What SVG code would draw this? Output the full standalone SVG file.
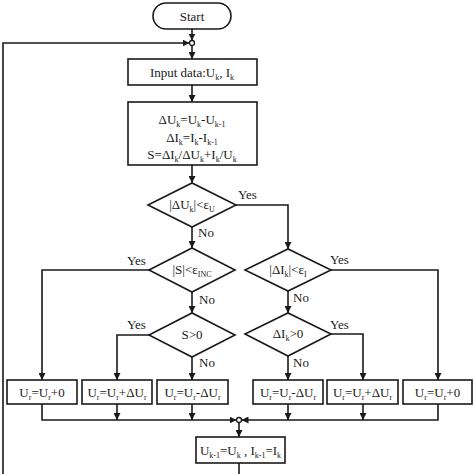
<svg xmlns="http://www.w3.org/2000/svg" width="474" height="474" viewBox="0 0 474 474">
<defs>
<style>
.b{fill:#fff;stroke:#1a1a1a;stroke-width:1.6}
.c{fill:none;stroke:#1a1a1a;stroke-width:1.6}
.j{fill:#fff;stroke:#1a1a1a;stroke-width:1.3}
text{font-family:"Liberation Serif","Times New Roman",serif;font-size:13px;fill:#1a1a1a}
.m{text-anchor:middle}
.s{font-size:8px}
</style>
<marker id="a" viewBox="0 0 10 10" refX="10" refY="5" markerWidth="7" markerHeight="7" markerUnits="userSpaceOnUse" orient="auto">
<path d="M0,0 L10,5 L0,10 z" fill="#1a1a1a"/>
</marker>
</defs>
<g id="connectors">
<path class="c" d="M192,29 V40.5" marker-end="url(#a)"/>
<path class="c" d="M3,474 V43 H189.5" marker-end="url(#a)"/>
<path class="c" d="M192,45.5 V59" marker-end="url(#a)"/>
<path class="c" d="M192,85 V102" marker-end="url(#a)"/>
<path class="c" d="M192,165 V183" marker-end="url(#a)"/>
<path class="c" d="M236,205 H288 V249" marker-end="url(#a)"/>
<path class="c" d="M192,227 V248" marker-end="url(#a)"/>
<path class="c" d="M149,270 H42 V380" marker-end="url(#a)"/>
<path class="c" d="M192,292 V313" marker-end="url(#a)"/>
<path class="c" d="M149,335 H117 V380" marker-end="url(#a)"/>
<path class="c" d="M192,357 V380" marker-end="url(#a)"/>
<path class="c" d="M331,270 H438 V380" marker-end="url(#a)"/>
<path class="c" d="M288,291 V313" marker-end="url(#a)"/>
<path class="c" d="M331,334 H363 V380" marker-end="url(#a)"/>
<path class="c" d="M288,356 V380" marker-end="url(#a)"/>
<path class="c" d="M42,404 V420 H236.5" marker-end="url(#a)"/>
<path class="c" d="M117,404 V420" marker-end="url(#a)"/>
<path class="c" d="M192,404 V420" marker-end="url(#a)"/>
<path class="c" d="M438,404 V420 H241.5" marker-end="url(#a)"/>
<path class="c" d="M288,404 V420" marker-end="url(#a)"/>
<path class="c" d="M363,404 V420" marker-end="url(#a)"/>
<path class="c" d="M239,422.5 V437" marker-end="url(#a)"/>
<path class="c" d="M239,463 V474"/>
<circle class="j" cx="192" cy="43" r="2.5"/>
<circle class="j" cx="239" cy="420" r="2.5"/>
<text x="238" y="199">Yes</text>
<text x="198" y="237">No</text>
<text x="127" y="265">Yes</text>
<text x="199" y="304">No</text>
<text x="127" y="329">Yes</text>
<text x="199" y="367">No</text>
<text x="330" y="264">Yes</text>
<text x="293" y="302">No</text>
<text x="330" y="329">Yes</text>
<text x="293" y="367">No</text>
</g>
<g id="start">
<rect class="b" x="153" y="3" width="78" height="26" rx="13"/>
<text class="m" x="192" y="21">Start</text>
</g>
<g id="input">
<rect class="b" x="128" y="59" width="129" height="26"/>
<text class="m" x="192" y="77">Input data:U<tspan class="s" dy="3">k</tspan><tspan dy="-3">, I</tspan><tspan class="s" dy="3">k</tspan></text>
</g>
<g id="compute">
<rect class="b" x="128" y="102" width="129" height="63"/>
<text class="m" x="192" y="124">ΔU<tspan class="s" dy="3">k</tspan><tspan dy="-3">=U</tspan><tspan class="s" dy="3">k</tspan><tspan dy="-3">-U</tspan><tspan class="s" dy="3">k-1</tspan></text>
<text class="m" x="192" y="142">ΔI<tspan class="s" dy="3">k</tspan><tspan dy="-3">=I</tspan><tspan class="s" dy="3">k</tspan><tspan dy="-3">-I</tspan><tspan class="s" dy="3">k-1</tspan></text>
<text class="m" x="192" y="159">S=ΔI<tspan class="s" dy="3">k</tspan><tspan dy="-3">/ΔU</tspan><tspan class="s" dy="3">k</tspan><tspan dy="-3">+I</tspan><tspan class="s" dy="3">k</tspan><tspan dy="-3">/U</tspan><tspan class="s" dy="3">k</tspan></text>
</g>
<g id="d1">
<polygon class="b" points="148,205 192,183 236,205 192,227"/>
<text class="m" x="192" y="209">|ΔU<tspan class="s" dy="3">k</tspan><tspan dy="-3">|&lt;ε</tspan><tspan class="s" dy="3">U</tspan></text>
</g>
<g id="d2">
<polygon class="b" points="149,270 192,248 235,270 192,292"/>
<text class="m" x="192" y="274">|S|&lt;ε<tspan class="s" dy="3">INC</tspan></text>
</g>
<g id="d3">
<polygon class="b" points="149,335 192,313 235,335 192,357"/>
<text class="m" x="192" y="339">S&gt;0</text>
</g>
<g id="d4">
<polygon class="b" points="245,270 288,249 331,270 288,291"/>
<text class="m" x="288" y="274">|ΔI<tspan class="s" dy="3">k</tspan><tspan dy="-3">|&lt;ε</tspan><tspan class="s" dy="3">I</tspan></text>
</g>
<g id="d5">
<polygon class="b" points="245,334 288,313 331,334 288,356"/>
<text class="m" x="288" y="338">ΔI<tspan class="s" dy="3">k</tspan><tspan dy="-3">&gt;0</tspan></text>
</g>
<g id="r1">
<rect class="b" x="7" y="380" width="70" height="24"/>
<text class="m" x="42" y="397">U<tspan class="s" dy="3">r</tspan><tspan dy="-3">=U</tspan><tspan class="s" dy="3">r</tspan><tspan dy="-3">+0</tspan></text>
</g>
<g id="r2">
<rect class="b" x="82" y="380" width="70" height="24"/>
<text class="m" x="117" y="397">U<tspan class="s" dy="3">r</tspan><tspan dy="-3">=U</tspan><tspan class="s" dy="3">r</tspan><tspan dy="-3">+ΔU</tspan><tspan class="s" dy="3">r</tspan></text>
</g>
<g id="r3">
<rect class="b" x="157" y="380" width="71" height="24"/>
<text class="m" x="192.5" y="397">U<tspan class="s" dy="3">r</tspan><tspan dy="-3">=U</tspan><tspan class="s" dy="3">r</tspan><tspan dy="-3">-ΔU</tspan><tspan class="s" dy="3">r</tspan></text>
</g>
<g id="r4">
<rect class="b" x="253" y="380" width="70" height="24"/>
<text class="m" x="288" y="397">U<tspan class="s" dy="3">r</tspan><tspan dy="-3">=U</tspan><tspan class="s" dy="3">r</tspan><tspan dy="-3">-ΔU</tspan><tspan class="s" dy="3">r</tspan></text>
</g>
<g id="r5">
<rect class="b" x="327" y="380" width="71" height="24"/>
<text class="m" x="362.5" y="397">U<tspan class="s" dy="3">r</tspan><tspan dy="-3">=U</tspan><tspan class="s" dy="3">r</tspan><tspan dy="-3">+ΔU</tspan><tspan class="s" dy="3">r</tspan></text>
</g>
<g id="r6">
<rect class="b" x="403" y="380" width="69" height="24"/>
<text class="m" x="437.5" y="397">U<tspan class="s" dy="3">r</tspan><tspan dy="-3">=U</tspan><tspan class="s" dy="3">r</tspan><tspan dy="-3">+0</tspan></text>
</g>
<g id="update">
<rect class="b" x="196" y="437" width="89" height="26"/>
<text class="m" x="240.5" y="455">U<tspan class="s" dy="3">k-1</tspan><tspan dy="-3">=U</tspan><tspan class="s" dy="3">k</tspan><tspan dy="-3"> , I</tspan><tspan class="s" dy="3">k-1</tspan><tspan dy="-3">=I</tspan><tspan class="s" dy="3">k</tspan></text>
</g>
</svg>
